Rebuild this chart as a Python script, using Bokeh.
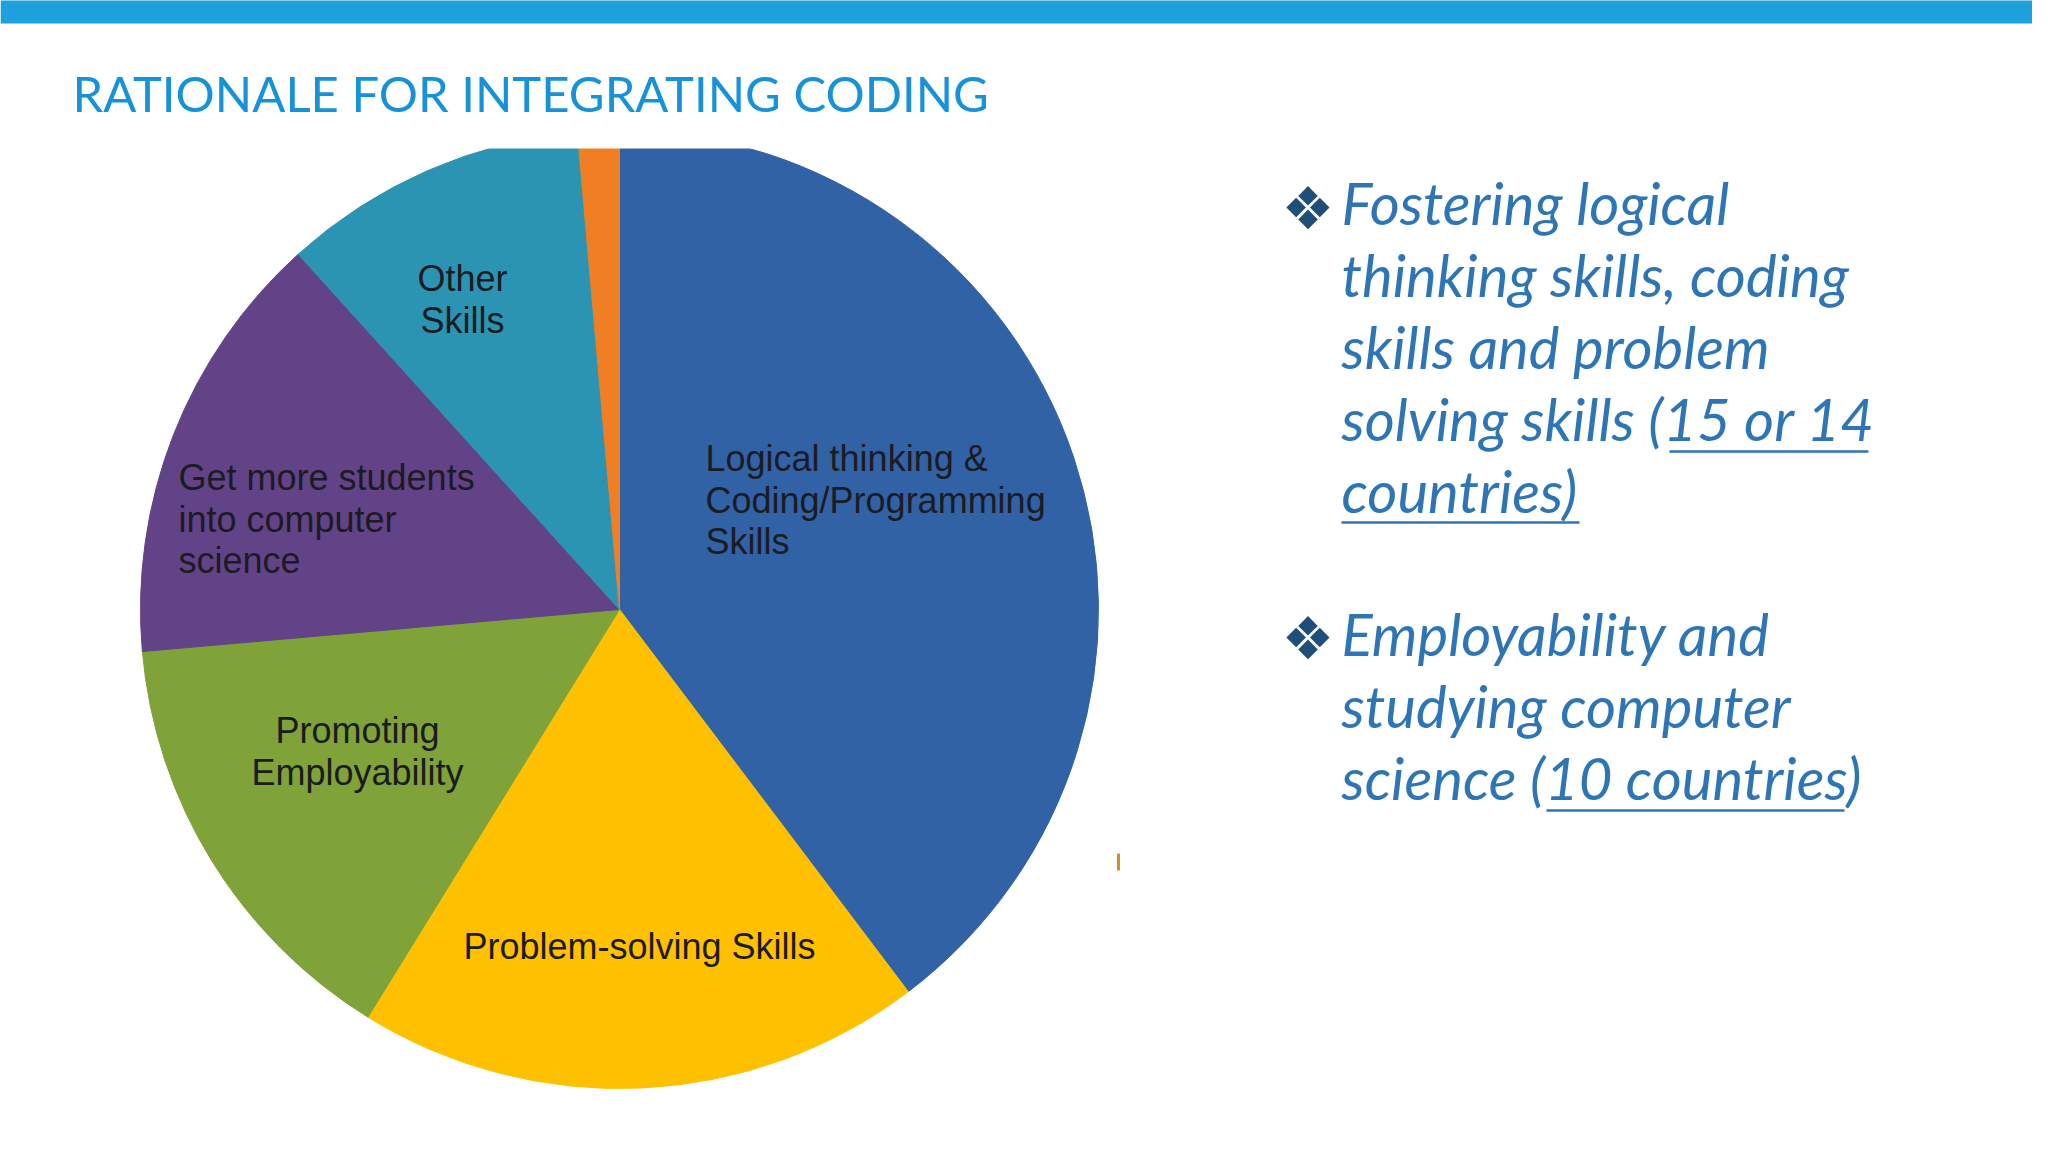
import numpy as np
from bokeh.plotting import figure
from bokeh.models import Range1d, ColumnDataSource
from bokeh.core.properties import value
from bokeh.embed import file_html
from bokeh.resources import INLINE

# ---------------- data ----------------
title_text = "RATIONALE FOR INTEGRATING CODING"

categories = [
    "Logical thinking & Coding/Programming Skills",
    "Problem-solving Skills",
    "Promoting Employability",
    "Get more students into computer science",
    "Other Skills",
    "(unlabelled)",
]
shares = [39.7, 19.1, 14.8, 14.7, 10.3, 1.4]
slice_colors = ["#3162a6", "#ffc000", "#7fa239", "#624388", "#2c94b3", "#ef7f22"]

label_lines = [
    ["Logical thinking &", "Coding/Programming", "Skills"],
    ["Problem-solving Skills"],
    ["Promoting", "Employability"],
    ["Get more students", "into computer", "science"],
    ["Other", "Skills"],
    [],
]

bullet1_lines = ["Fostering logical", "thinking skills, coding", "skills and problem",
                 "solving skills (15 or 14", "countries)"]
bullet2_lines = ["Employability and", "studying computer", "science (10 countries)"]

# ---------------- layout (screen pixel coordinates) ----------------
W, H = 2032, 1136
def Y(ry):
    return 1152 - ry

p = figure(width=W, height=H, x_range=Range1d(0, W), y_range=Range1d(1152 - H, 1152),
           output_backend="svg", toolbar_location=None, x_axis_type=None, y_axis_type=None,
           min_border=0, outline_line_color=None, background_fill_color="white",
           border_fill_color="white")
p.grid.visible = False

# top bar
p.quad(left=0, right=2048, bottom=Y(23), top=Y(-10), color="#1da1dd", line_color=None)

# pie
cx, cy, r = 619, Y(609), 479
fr = np.array(shares) / np.sum(shares)
ends = np.cumsum(fr) * 360.0
starts = ends - fr * 360.0
src = ColumnDataSource(dict(
    start=np.deg2rad(90.0 - ends), end=np.deg2rad(90.0 - starts),
    color=slice_colors, cat=categories))
p.wedge(x=cx, y=cy, radius=r, start_angle="start", end_angle="end", direction="anticlock",
        fill_color="color", line_color="color", line_width=1, source=src)

# top of pie is cut off by the slide frame
p.quad(left=100, right=1140, bottom=Y(148), top=Y(110), color="white", line_color=None)

# small orange mark
p.segment(x0=1118, y0=Y(853), x1=1118, y1=Y(870), line_color="#d48a3a", line_width=3)

# title
p.text(x=[72], y=[Y(92)], text=[title_text], text_font=value("Lato"),
       text_font_size="49px", text_color="#1592d8", text_baseline="alphabetic")

# pie labels
label_pos = [  # (x, first baseline, align)
    (705, 458, "left"),
    (639, 946, "center"),
    (357, 730, "center"),
    (178, 477, "left"),
    (462, 278, "center"),
    (0, 0, "left"),
]
lx, ly, lt, la = [], [], [], []
for lines, (x0, b0, al) in zip(label_lines, label_pos):
    for i, t in enumerate(lines):
        lx.append(x0); ly.append(Y(b0 + i * 41.5)); lt.append(t); la.append(al)
p.text(x="x", y="y", text="t", text_align="a",
       source=ColumnDataSource(dict(x=lx, y=ly, t=lt, a=la)),
       text_font=value("Liberation Sans"), text_font_size="36px",
       text_color="#1b1b22", text_baseline="alphabetic")

# right-hand bullet text
bx, by, bt = [], [], []
for i, t in enumerate(bullet1_lines):
    bx.append(1341); by.append(Y(202 + i * 72)); bt.append(t)
for i, t in enumerate(bullet2_lines):
    bx.append(1341); by.append(Y(633 + i * 72)); bt.append(t)
p.text(x="x", y="y", text="t", source=ColumnDataSource(dict(x=bx, y=by, t=bt)),
       text_font=value("Lato"), text_font_style="italic", text_font_size="58px",
       text_color="#2e75b6", text_baseline="alphabetic")

# bullets
p.text(x=[1281, 1281], y=[Y(208), Y(638)], text=["\u2756", "\u2756"],
       text_font=value("DejaVu Sans"), text_font_size="59px", text_color="#1f4e79",
       text_baseline="middle")

# underlines
p.segment(x0=[1669, 1341, 1546], y0=[Y(451), Y(522), Y(810)],
          x1=[1868, 1579, 1844], y1=[Y(451), Y(522), Y(810)],
          line_color="#2e75b6", line_width=2.5)

open("out.html", "w").write(file_html(p, INLINE, title="Rationale for integrating coding"))
